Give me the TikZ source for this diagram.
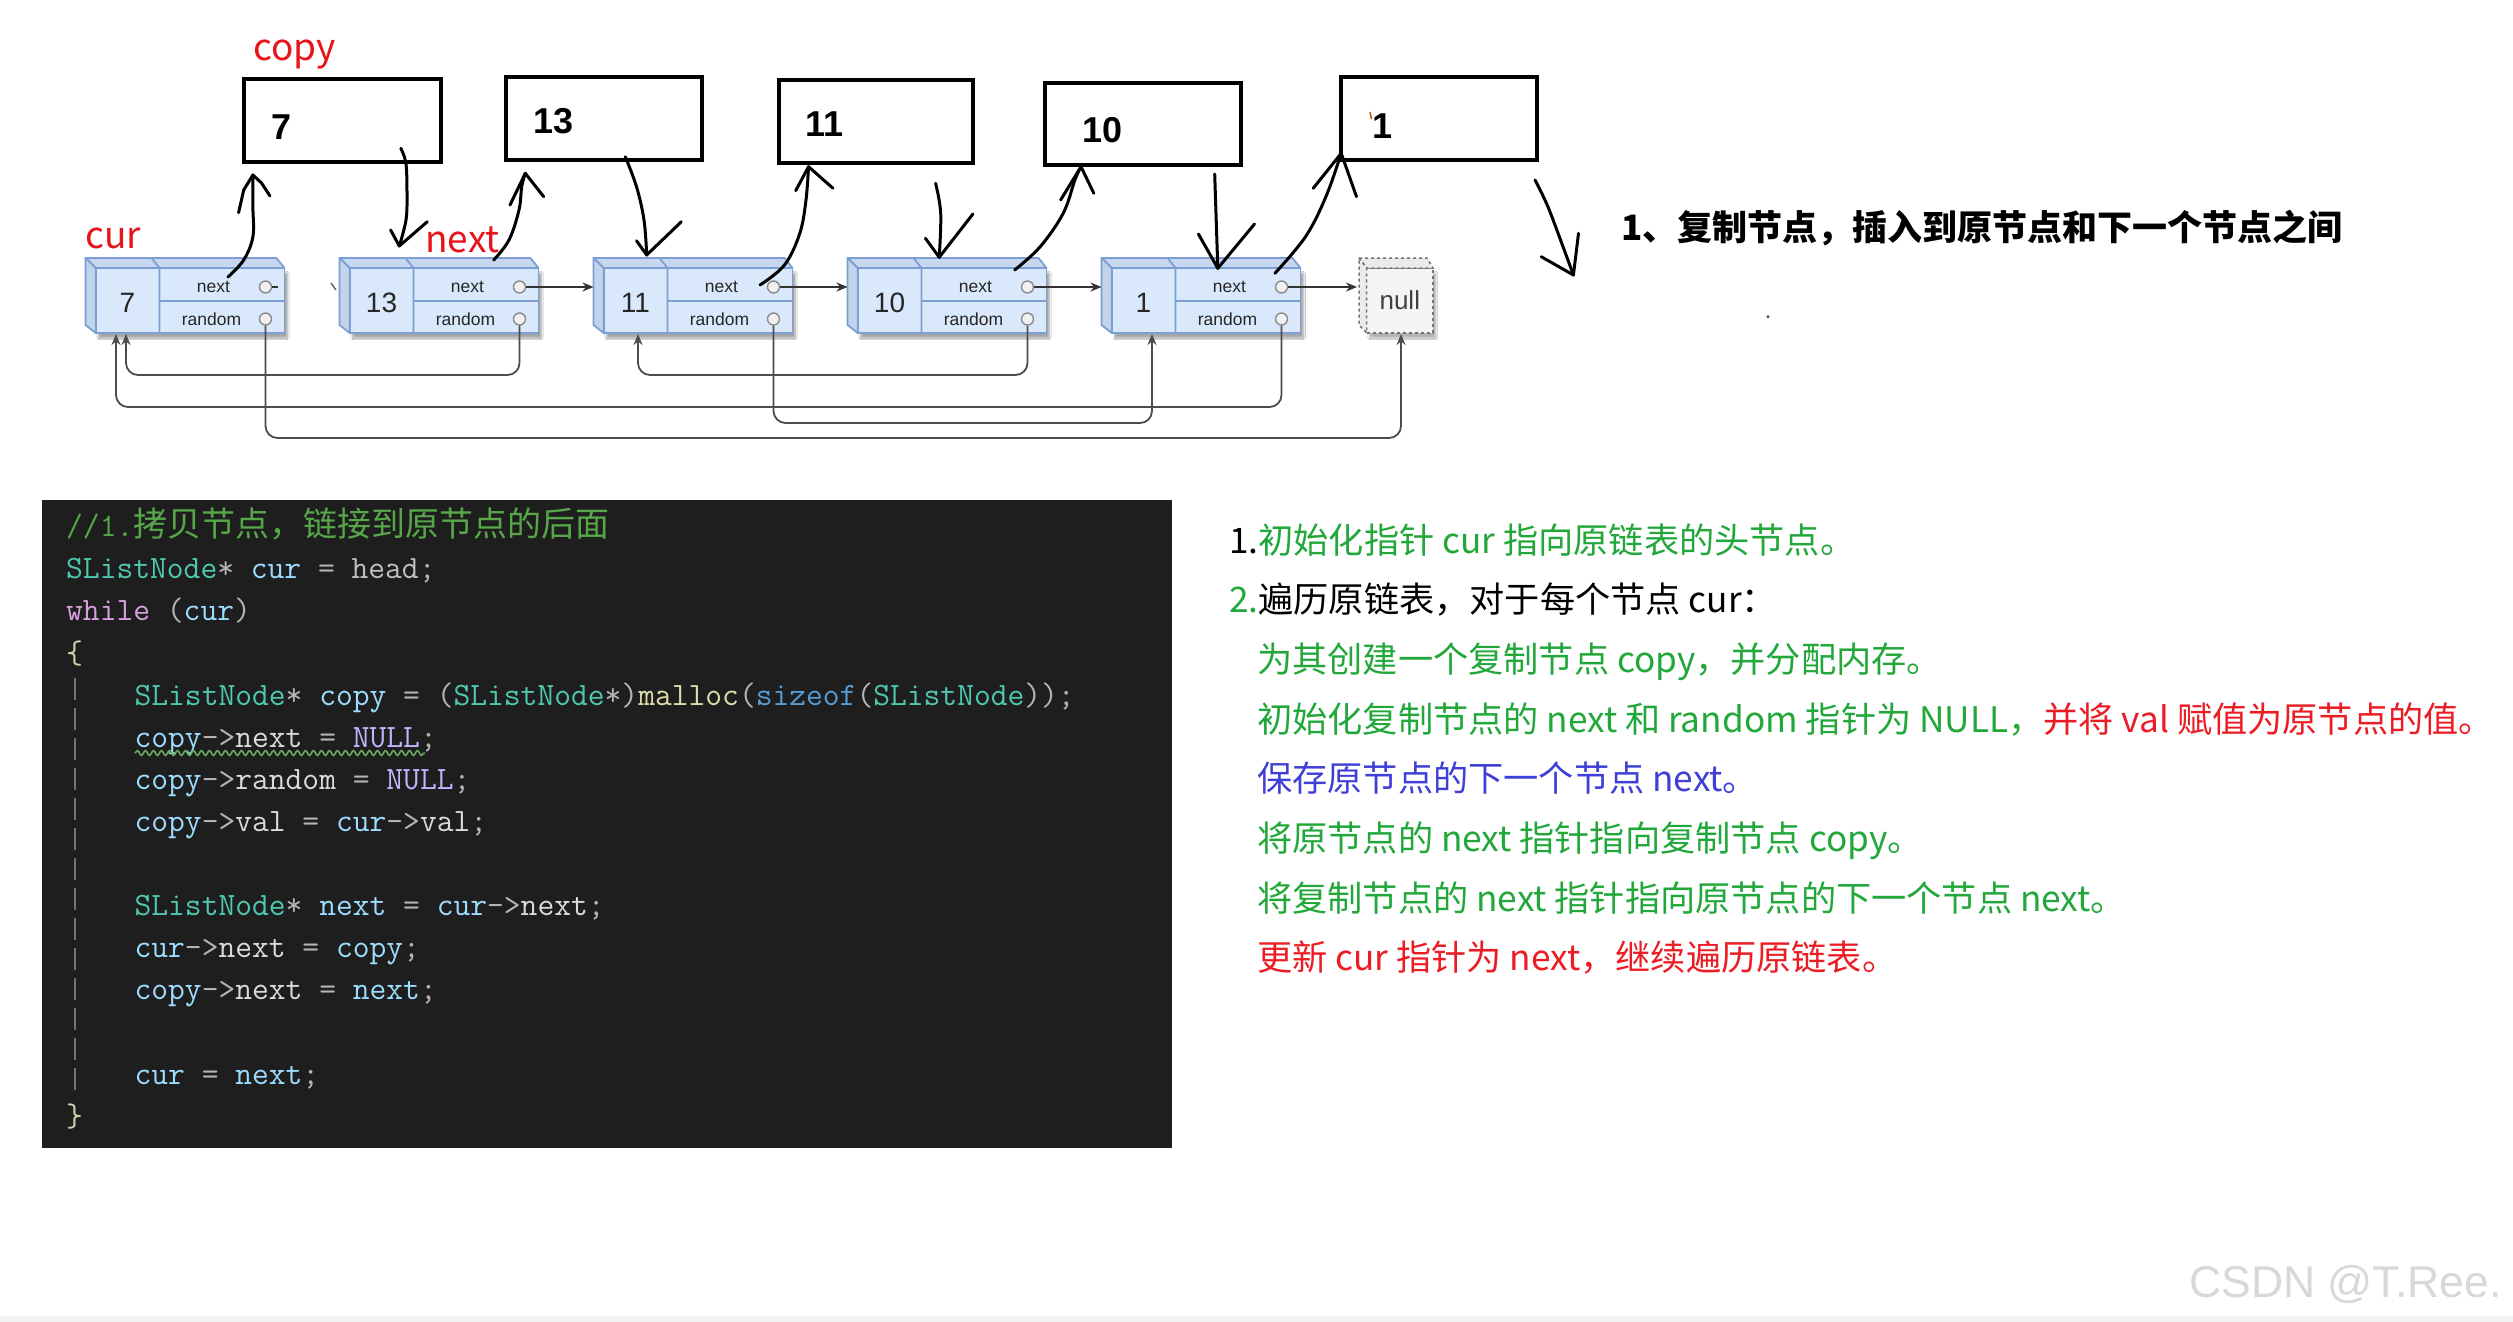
\documentclass[tikz,border=0pt]{standalone}
\usepackage{fontspec}
\usetikzlibrary{arrows.meta,shadows.blur,decorations.pathmorphing}
\newfontfamily\cjk{Noto Sans CJK SC}
\newfontfamily\arialf{Liberation Sans}
\definecolor{lnfill}{HTML}{DAE8FC}
\definecolor{lntop}{HTML}{C6D7EF}
\definecolor{lnside}{HTML}{C2D3EC}
\definecolor{lnstroke}{HTML}{7C9FD3}
\definecolor{hred}{HTML}{E8141C}
\definecolor{tgreen}{HTML}{22A83A}
\definecolor{tred}{HTML}{EC1C24}
\definecolor{tblue}{HTML}{3F3FD8}
\definecolor{codebg}{HTML}{1E1E1E}
\definecolor{ccmt}{HTML}{57A64A}
\definecolor{ctyp}{HTML}{4EC9B0}
\definecolor{cvar}{HTML}{9CDCFE}
\definecolor{cop}{HTML}{B4B4B4}
\definecolor{ckw}{HTML}{D8A0DF}
\definecolor{cfn}{HTML}{DCDCAA}
\definecolor{ckwb}{HTML}{569CD6}
\definecolor{cmac}{HTML}{BEB7FF}
\definecolor{cmem}{HTML}{DADADA}
\definecolor{chead}{HTML}{C0C0C0}
\definecolor{cbrace}{HTML}{D4CFA8}
\definecolor{wmgray}{HTML}{D8D8D8}
\newcommand\cc[2]{\textcolor{#1}{#2}}
\newcommand\listnode[3]{%
  \node[lnfront] (#1) at ({#2+104.6},300.5) {};
  \filldraw[lnline, fill=lntop] ({#2},258) -- ({#2+191},258) -- ({#2+199},268) -- ({#2+10.2},268) -- cycle;
  \filldraw[lnline, fill=lnside] ({#2},258) -- ({#2+10.2},268) -- ({#2+10.2},333) -- ({#2},325) -- cycle;
  \draw[lnline] ({#2+66},258) -- ({#2+74},268) -- ({#2+74},333);
  \draw[lnline] ({#2+74},301) -- ({#2+199},301);
  \node[lnval] (#1-v) at ({#2+42},303) {#3};
  \node[lnfld] (#1-nt) at ({#2+128},287) {next};
  \node[lnfld] (#1-rt) at ({#2+126},319) {random};
  \node[lnport] (#1-n) at ({#2+180},287) {};
  \node[lnport] (#1-r) at ({#2+180},319) {};
  \coordinate (#1-in) at ({#2},287);
}
\begin{document}
\begin{tikzpicture}[x=1pt,y=-1pt,
  cbox/.style={draw=black, line width=4pt, inner sep=0pt, fill=white},
  cnum/.style={inner sep=0pt, anchor=west, font=\arialf\bfseries\fontsize{36}{36}\selectfont},
  redlab/.style={inner sep=0pt, anchor=base west, text=hred, font=\cjk\fontsize{37}{37}\selectfont},
  lnfront/.style={draw=lnstroke, line width=1.8pt, fill=lnfill, minimum width=188.8pt, minimum height=65pt, inner sep=0pt,
     blur shadow={shadow xshift=3pt, shadow yshift=-5pt, shadow blur steps=6, shadow opacity=35}},
  lnline/.style={draw=lnstroke, line width=1.8pt, line join=round},
  lnval/.style={inner sep=0pt, text=black!85, font=\arialf\fontsize{28}{28}\selectfont},
  lnfld/.style={inner sep=0pt, text=black!85, font=\arialf\fontsize{17.5}{17.5}\selectfont},
  lnport/.style={circle, draw=black!45, line width=1.4pt, fill=white!94!black, minimum size=12pt, inner sep=0pt},
  nextarr/.style={draw=black!80, line width=1.8pt, -{Stealth[length=11pt,width=9pt]}},
  rnd/.style={draw=black!70, line width=1.8pt, rounded corners=12pt, -{Stealth[length=11pt,width=9pt]}},
  hand/.style={draw=black, line width=3pt, line cap=round, line join=round},
  code/.style={inner sep=0pt, anchor=base west, font=\ttfamily\fontsize{32.6}{34}\selectfont},
  rtext/.style={inner sep=0pt, anchor=base west, font=\cjk\fontsize{35.2}{35.2}\selectfont}]
\fill[white] (0,0) rectangle (2513,1322);
\useasboundingbox (0,0) rectangle (2513,1322);
\fill[black!5] (0,1316) rectangle (2513,1322);

% copy boxes
\node[cbox, minimum width=197pt, minimum height=83pt] (c7) at (342.5,120.5) {};
\node[cbox, minimum width=196pt, minimum height=83pt] (c13) at (604,118.5) {};
\node[cbox, minimum width=194pt, minimum height=83pt] (c11) at (876,121.5) {};
\node[cbox, minimum width=196pt, minimum height=82pt] (c10) at (1143,124) {};
\node[cbox, minimum width=196pt, minimum height=83pt] (c1) at (1439,118.5) {};
\node[cnum] (c7v) at (271,127) {7};
\node[cnum] (c13v) at (533,121) {13};
\node[cnum] (c11v) at (805,124) {11};
\node[cnum] (c10v) at (1082,130) {10};
\node[cnum] (c1v) at (1372,126) {1};
\draw[orange!70!black, line width=1.5pt] (1370,112) -- (1371.5,119);

% red labels
\node[redlab] (lcopy) at (253,61) {copy};
\node[redlab] (lcur) at (85,248) {cur};
\node[redlab] (lnext) at (425,252) {next};

% linked list
\listnode{n7}{85.5}{7}
\listnode{n13}{339.5}{13}
\listnode{n11}{593.5}{11}
\listnode{n10}{847.5}{10}
\listnode{n1}{1101.5}{1}
\node[draw=black!55, dashed, line width=1.5pt, fill=black!4, minimum width=66.3pt, minimum height=65pt, inner sep=0pt,
  text=black!75, font=\arialf\fontsize{26}{26}\selectfont,
  blur shadow={shadow xshift=3pt, shadow yshift=-5pt, shadow blur steps=6, shadow opacity=30}] (nul) at (1399.8,300.5) {null};
\filldraw[draw=black!55, dashed, line width=1.5pt, fill=black!8] (1359,258) -- (1427,258) -- (1433,268) -- (1366.7,268) -- cycle;
\filldraw[draw=black!55, dashed, line width=1.5pt, fill=black!8] (1359,258) -- (1366.7,268) -- (1366.7,333) -- (1359,325) -- cycle;
\coordinate (nul-in) at (1357,287);

% next arrows
\draw[draw=black!80, line width=1.8pt] (n7-n.east) -- ++(6,0);
\draw[draw=black!60, line width=1.5pt] (331,283) -- (336,290);
\draw[nextarr] (n13-n.east) -- (n11-in);
\draw[nextarr] (n11-n.east) -- (n10-in);
\draw[nextarr] (n10-n.east) -- (n1-in);
\draw[nextarr] (n1-n.east) -- (nul-in);

% random arrows
\coordinate (lv1) at (0,375);
\coordinate (lv2) at (0,407);
\coordinate (lv3) at (0,423);
\coordinate (lv4) at (0,438);
\coordinate (t7a) at (126,334);
\coordinate (t7b) at (116,334);
\coordinate (t11) at (638,334);
\coordinate (t1) at (1152,334);
\coordinate (tnul) at (1401,334);
\draw[rnd] (n13-r.south) -- (n13-r.south |- lv1) -- (t7a |- lv1) -- (t7a);
\draw[rnd] (n1-r.south) -- (n1-r.south |- lv2) -- (t7b |- lv2) -- (t7b);
\draw[rnd] (n11-r.south) -- (n11-r.south |- lv3) -- (t1 |- lv3) -- (t1);
\draw[rnd] (n10-r.south) -- (n10-r.south |- lv1) -- (t11 |- lv1) -- (t11);
\draw[rnd] (n7-r.south) -- (n7-r.south |- lv4) -- (tnul |- lv4) -- (tnul);

% hand-drawn arrows
\draw[hand] plot[smooth, tension=0.6] coordinates {(228,277) (243.7,260) (252.9,236.7) (252.9,206.7) (252.9,175)};
\draw[hand] (238.6,212.7) -- (243.7,190) -- (252.9,175) -- (261.5,183) -- (270,196);
\draw[hand] plot[smooth, tension=0.6] coordinates {(400.8,148.3) (405.9,163.3) (407,193.3) (406,220) (399.3,246)};
\draw[hand] (390.6,230) -- (399.3,246) -- (427.3,221.7);
\draw[hand] plot[smooth, tension=0.6] coordinates {(493.7,260) (509,240) (519,210) (521.7,186.7) (525.3,173.3)};
\draw[hand] (510,205) -- (525.3,173.3) -- (543.7,196.7);
\draw[hand] plot[smooth, tension=0.6] coordinates {(625.3,156.7) (636.5,186.7) (644,220) (646.7,255)};
\draw[hand] (636.5,240.7) -- (646.7,255) -- (681.4,221.7);
\draw[hand] plot[smooth, tension=0.6] coordinates {(760,285) (784.5,265) (799.8,233.3) (806,200) (808.5,166.7)};
\draw[hand] (795.7,190.7) -- (808.5,166.7) -- (833,188.3);
\draw[hand] plot[smooth, tension=0.6] coordinates {(935.6,183.3) (940.7,213.3) (939.2,257.3)};
\draw[hand] (925.4,238.3) -- (939.2,257.3) -- (972.9,214);
\draw[hand] plot[smooth, tension=0.6] coordinates {(1014.7,270) (1040.2,246.7) (1063.2,213.3) (1074.9,180) (1081,166.7)};
\draw[hand] (1060.6,200) -- (1081,166.7) -- (1093.8,193.3);
\draw[hand] plot[smooth, tension=0.6] coordinates {(1214.7,174) (1216.2,220) (1217.8,268.3)};
\draw[hand] (1198.4,234) -- (1217.8,268.3) -- (1254.5,224);
\draw[hand] plot[smooth, tension=0.6] coordinates {(1274.9,273.3) (1305.5,236.7) (1325.9,196.7) (1341.2,153.3)};
\draw[hand] (1313.2,188.3) -- (1341.2,153.3) -- (1356.5,196.7);
\draw[hand] plot[smooth, tension=0.6] coordinates {(1535,180) (1547.9,206.7) (1563,246.7) (1573.4,275)};
\draw[hand] (1541.2,256.7) -- (1573.4,275) -- (1578.5,233.3);

% title
\node[inner sep=0pt, anchor=base west, font=\cjk\bfseries\fontsize{35}{35}\selectfont] (title) at (1621,240) {1、复制节点，插入到原节点和下一个节点之间};
\fill[black!70] (1768,316.7) circle (1.6pt);

% code panel
\fill[codebg] (42,500) rectangle (1172,1148);
\draw[black!55, line width=2pt, dash pattern=on 22pt off 8pt] (74.5,678) -- (74.5,1095);
\node[code] (k1) at (66,536.7) {\cc{ccmt}{//1.}\cc{ccmt}{\cjk\fontsize{34}{34}\selectfont 拷贝节点，链接到原节点的后面}};
\node[code] (k2) at (66,578.8) {\cc{ctyp}{SListNode}\cc{cop}{*} \cc{cvar}{cur} \cc{cop}{=} \cc{chead}{head}\cc{cop}{;}};
\node[code] (k3) at (66,620.9) {\cc{ckw}{while} \cc{cop}{(}\cc{cvar}{cur}\cc{cop}{)}};
\node[code] (k4) at (66,663) {\cc{cbrace}{\{}};
\node[code] (k5) at (134.4,705.1) {\cc{ctyp}{SListNode}\cc{cop}{*} \cc{cvar}{copy} \cc{cop}{= (}\cc{ctyp}{SListNode}\cc{cop}{*)}\cc{cfn}{malloc}\cc{cop}{(}\cc{ckwb}{sizeof}\cc{cop}{(}\cc{ctyp}{SListNode}\cc{cop}{));}};
\node[code] (k6) at (134.4,747.2) {\cc{cvar}{copy}\cc{cop}{->}\cc{cmem}{next} \cc{cop}{=} \cc{cmac}{NULL}\cc{cop}{;}};
\draw[ccmt!90!white, line width=1.5pt, decorate, decoration={snake, amplitude=2.5pt, segment length=8pt}] (135,753) -- (425,753);
\node[code] (k7) at (134.4,789.3) {\cc{cvar}{copy}\cc{cop}{->}\cc{cmem}{random} \cc{cop}{=} \cc{cmac}{NULL}\cc{cop}{;}};
\node[code] (k8) at (134.4,831.4) {\cc{cvar}{copy}\cc{cop}{->}\cc{cmem}{val} \cc{cop}{=} \cc{cvar}{cur}\cc{cop}{->}\cc{cmem}{val}\cc{cop}{;}};
\node[code] (k10) at (134.4,915.6) {\cc{ctyp}{SListNode}\cc{cop}{*} \cc{cvar}{next} \cc{cop}{=} \cc{cvar}{cur}\cc{cop}{->}\cc{cmem}{next}\cc{cop}{;}};
\node[code] (k11) at (134.4,957.7) {\cc{cvar}{cur}\cc{cop}{->}\cc{cmem}{next} \cc{cop}{=} \cc{cvar}{copy}\cc{cop}{;}};
\node[code] (k12) at (134.4,999.8) {\cc{cvar}{copy}\cc{cop}{->}\cc{cmem}{next} \cc{cop}{=} \cc{cvar}{next}\cc{cop}{;}};
\node[code] (k14) at (134.4,1084) {\cc{cvar}{cur} \cc{cop}{=} \cc{cvar}{next}\cc{cop}{;}};
\node[code] (k15) at (66,1126.1) {\cc{cbrace}{\}}};

% right text
\node[rtext] (r1) at (1229,553) {1.\cc{tgreen}{初始化指针 cur 指向原链表的头节点。}};
\node[rtext] (r2) at (1229,612.7) {\cc{tgreen}{2.}遍历原链表，对于每个节点 cur：};
\node[rtext] (r3) at (1257,672.4) {\cc{tgreen}{为其创建一个复制节点 copy，并分配内存。}};
\node[rtext] (r4) at (1257,732.1) {\cc{tgreen}{初始化复制节点的 next 和 random 指针为 NULL，}\cc{tred}{并将 val 赋值为原节点的值。}};
\node[rtext] (r5) at (1257,791.8) {\cc{tblue}{保存原节点的下一个节点 next。}};
\node[rtext] (r6) at (1257,851.5) {\cc{tgreen}{将原节点的 next 指针指向复制节点 copy。}};
\node[rtext] (r7) at (1257,911.2) {\cc{tgreen}{将复制节点的 next 指针指向原节点的下一个节点 next。}};
\node[rtext] (r8) at (1257,970.9) {\cc{tred}{更新 cur 指针为 next，继续遍历原链表。}};

% watermark
\node[inner sep=0pt, anchor=base west, text=wmgray, font=\arialf\fontsize{44.5}{44.5}\selectfont] (wm) at (2189,1297) {CSDN @T.Ree.};
\end{tikzpicture}
\end{document}
